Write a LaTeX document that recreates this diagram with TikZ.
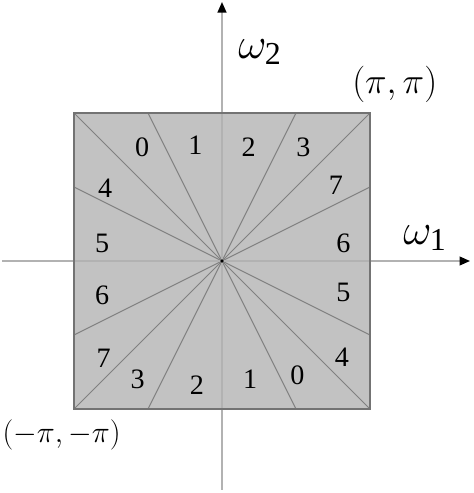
\documentclass[tikz,border=0pt]{standalone}
\usepackage{fontspec}
\setmainfont{Liberation Serif}
\usetikzlibrary{arrows.meta}

\tikzset{
  sectorline/.style={black!50, line width=0.6pt},
  axisline/.style={black!30, line width=1pt, -{Triangle[length=6pt,width=5pt,black]}},
  digit/.style={font=\fontsize{16}{18}\selectfont},
  axislabel/.style={font=\fontsize{26}{29}\selectfont},
  cornerlabel/.style={font=\fontsize{20.5}{23}\selectfont, inner sep=0pt, anchor=west}
}

\begin{document}
\begin{tikzpicture}[x=2.96cm, y=2.96cm]
        \useasboundingbox (-1.5,-1.5676) rectangle (1.7027,1.7635);

        \fill[black!24] (-1,-1) rectangle (1,1);
        \coordinate (O) at (0,0);

        % lines through the origin
        \foreach \a/\b in {1/0.5, 0.5/1, 1/1, -0.5/1, -1/1, -1/0.5}
            \draw[sectorline] (\a,\b) -- (O) -- (-\a,-\b);

        \draw[axisline] (-1.486,0) -- (1.676,0);
        \draw[axisline] (0,-1.547) -- (0,1.75);
        \fill[black] (O) circle (0.012);

        \draw[black!55, line width=0.8pt] (-1,-1) rectangle (1,1);

        % sector numbers
        \node[digit] (t0) at (-0.54,0.77) {0};
        \node[digit] (t1) at (-0.18,0.78) {1};
        \node[digit] (t2) at (0.18,0.77) {2};
        \node[digit] (t3) at (0.55,0.77) {3};
        \node[digit] (r7) at (0.77,0.51) {7};
        \node[digit] (r6) at (0.82,0.12) {6};
        \node[digit] (r5) at (0.82,-0.21) {5};
        \node[digit] (r4) at (0.81,-0.65) {4};
        \node[digit] (b0) at (0.51,-0.77) {0};
        \node[digit] (b1) at (0.19,-0.80) {1};
        \node[digit] (b2) at (-0.17,-0.84) {2};
        \node[digit] (b3) at (-0.57,-0.80) {3};
        \node[digit] (l7) at (-0.80,-0.66) {7};
        \node[digit] (l6) at (-0.81,-0.23) {6};
        \node[digit] (l5) at (-0.81,0.12) {5};
        \node[digit] (l4) at (-0.79,0.49) {4};

        % axis and corner labels
        \node[axislabel] (w2) at (0.257,1.412) {$\omega_{\mathrm{2}}$};
        \node[axislabel] (w1) at (1.372,0.155) {$\omega_{\mathrm{1}}$};
        \node[cornerlabel] (pp) at (0.878,1.196) {$(\pi,\pi)$};
        \node[cornerlabel, font=\fontsize{18.5}{21}\selectfont] (mm) at (-1.485,-1.176) {$(-\pi,-\pi)$};
\end{tikzpicture}
\end{document}
